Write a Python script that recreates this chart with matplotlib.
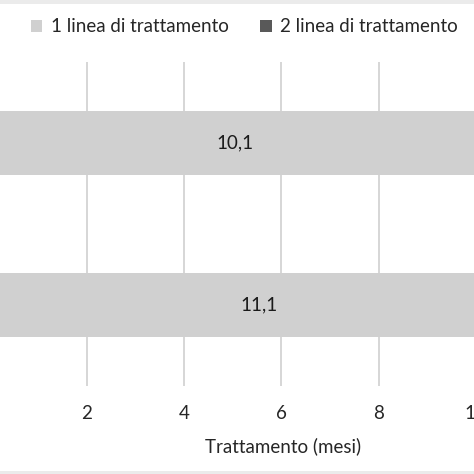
import matplotlib.pyplot as plt
from matplotlib.patches import Patch, Rectangle

plt.rcParams['font.family'] = ['Lato', 'DejaVu Sans']

# data
categories = ["B", "A"]          # category names are cropped out of the picture
values_1 = [11.1, 10.1]          # 1 linea di trattamento (bottom, top)
series_names = ["1 linea di trattamento", "2 linea di trattamento"]
series_colors = ["#d0d0d0", "#595959"]
xticks = [2, 4, 6, 8, 10]

fig = plt.figure(figsize=(4.74, 4.74), dpi=100)
ax = fig.add_axes([-10.2 / 474, 88 / 474, 486 / 474, 324 / 474])

y = list(range(len(categories)))
bars = ax.barh(y, values_1, height=0.4, color=series_colors[0], zorder=2)
for b, v in zip(bars, values_1):
    ax.text(v / 2, b.get_y() + b.get_height() / 2, f"{v:.1f}".replace(".", ","),
            ha="center", va="center", fontsize=13.5, color="#1a1a1a", zorder=3)

ax.set_xlim(0, 10)
ax.set_ylim(-0.5, 1.5)
ax.set_xticks(xticks)
ax.set_xticklabels([str(t) for t in xticks])
ax.set_yticks([])
ax.tick_params(axis="x", length=0, pad=14, labelsize=13.5, labelcolor="#262626")
ax.xaxis.grid(True, color="#cfcfcf", linewidth=1.2, zorder=0)
for s in ax.spines.values():
    s.set_visible(False)

fig.text(283 / 474, 1 - 446 / 474, "Trattamento (mesi)", ha="center", va="center",
         fontsize=13.5, color="#262626")

handles = [Patch(facecolor=c, edgecolor="none") for c in series_colors]
fig.legend(handles, series_names, loc="center left", bbox_to_anchor=(14 / 474, 1 - 27 / 474),
           ncol=2, frameon=False, fontsize=13.5, handlelength=0.6, handleheight=0.6,
           handletextpad=0.45, columnspacing=1.7, labelcolor="#262626")

# thin grey frame bands at top and bottom of the picture
fig.patches.append(Rectangle((0, 1 - 4 / 474), 1, 4 / 474, transform=fig.transFigure,
                             facecolor="#ebebeb", edgecolor="none"))
fig.patches.append(Rectangle((0, 0), 1, 3 / 474, transform=fig.transFigure,
                             facecolor="#ebebeb", edgecolor="none"))

fig.savefig("out.png", dpi=100)
